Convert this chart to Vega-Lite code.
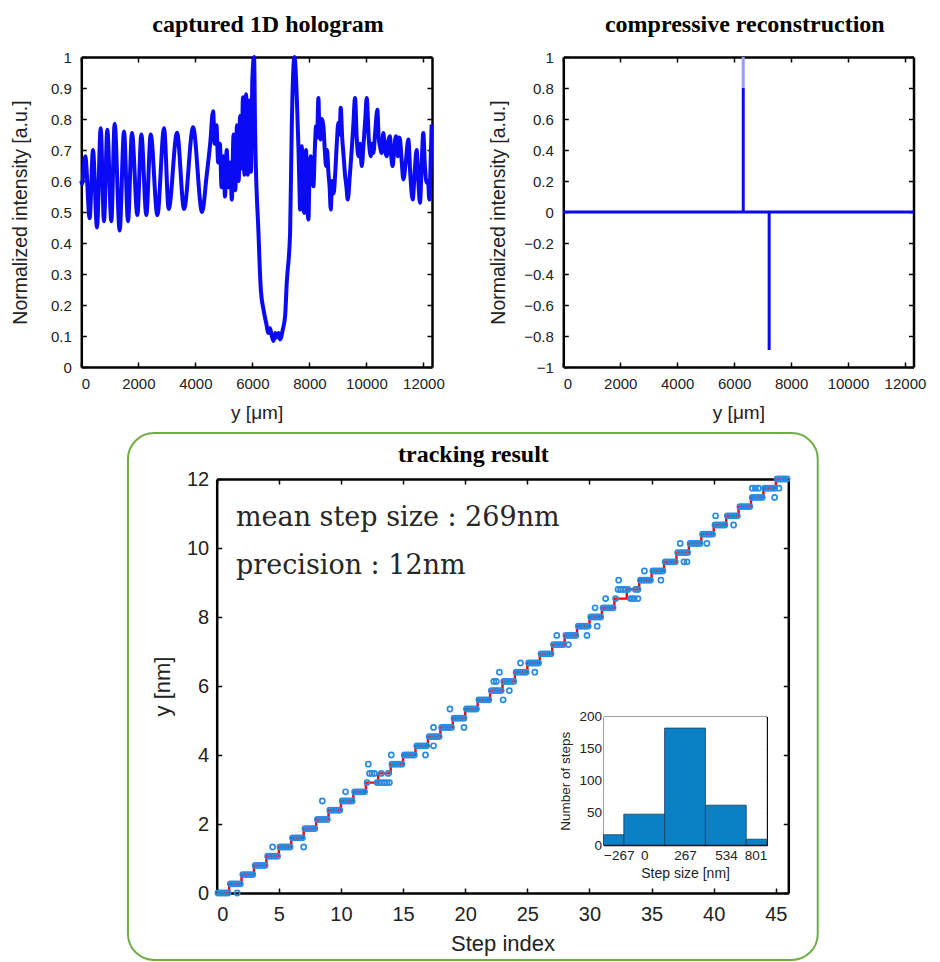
{
"$schema":"https://vega.github.io/schema/vega-lite/v6.json",
"width":940,"height":962,"autosize":"none","padding":0,"background":"white",
"config":{"view":{"stroke":null},
 "axis":{"grid":false,"domainColor":"#000","domainWidth":2.5,"tickColor":"#000","tickWidth":1.5,"tickSize":-5,"labelFont":"Liberation Sans","labelColor":"#222","titleFont":"Liberation Sans","titleFontWeight":"normal","titleColor":"#222","labelOverlap":false,"zindex":1}},
"datasets":{
"holo":[{"um":0,"v":0.6},{"um":23,"v":0.59},{"um":140,"v":0.68},{"um":293,"v":0.48},{"um":410,"v":0.7},{"um":550,"v":0.45},{"um":680,"v":0.77},{"um":796,"v":0.47},{"um":913,"v":0.765},{"um":1053,"v":0.47},{"um":1170,"v":0.785},{"um":1345,"v":0.44},{"um":1498,"v":0.76},{"um":1638,"v":0.47},{"um":1778,"v":0.755},{"um":1966,"v":0.49},{"um":2106,"v":0.75},{"um":2281,"v":0.49},{"um":2434,"v":0.75},{"um":2668,"v":0.49},{"um":2902,"v":0.77},{"um":3065,"v":0.51},{"um":3358,"v":0.756},{"um":3604,"v":0.51},{"um":3920,"v":0.773},{"um":4235,"v":0.5},{"um":4400,"v":0.62},{"um":4520,"v":0.72},{"um":4622,"v":0.825},{"um":4680,"v":0.72},{"um":4740,"v":0.78},{"um":4800,"v":0.66},{"um":4860,"v":0.72},{"um":4920,"v":0.58},{"um":4980,"v":0.68},{"um":5040,"v":0.55},{"um":5100,"v":0.7},{"um":5160,"v":0.58},{"um":5220,"v":0.66},{"um":5280,"v":0.54},{"um":5340,"v":0.75},{"um":5400,"v":0.57},{"um":5460,"v":0.78},{"um":5520,"v":0.6},{"um":5570,"v":0.81},{"um":5620,"v":0.64},{"um":5670,"v":0.87},{"um":5720,"v":0.62},{"um":5780,"v":0.88},{"um":5840,"v":0.62},{"um":5900,"v":0.86},{"um":5950,"v":0.63},{"um":6000,"v":0.93},{"um":6060,"v":1.0},{"um":6097,"v":0.755},{"um":6214,"v":0.433},{"um":6296,"v":0.25},{"um":6389,"v":0.186},{"um":6482,"v":0.143},{"um":6564,"v":0.11},{"um":6620,"v":0.125},{"um":6681,"v":0.1},{"um":6740,"v":0.084},{"um":6800,"v":0.11},{"um":6856,"v":0.095},{"um":6920,"v":0.11},{"um":6973,"v":0.089},{"um":7067,"v":0.121},{"um":7148,"v":0.164},{"um":7206,"v":0.272},{"um":7323,"v":0.433},{"um":7382,"v":0.777},{"um":7475,"v":1.0},{"um":7557,"v":0.873},{"um":7615,"v":0.712},{"um":7650,"v":0.583},{"um":7674,"v":0.508},{"um":7700,"v":0.64},{"um":7732,"v":0.712},{"um":7770,"v":0.56},{"um":7814,"v":0.497},{"um":7850,"v":0.62},{"um":7884,"v":0.7},{"um":7920,"v":0.55},{"um":7966,"v":0.476},{"um":8000,"v":0.6},{"um":8048,"v":0.68},{"um":8090,"v":0.62},{"um":8141,"v":0.583},{"um":8190,"v":0.7},{"um":8234,"v":0.777},{"um":8270,"v":0.74},{"um":8316,"v":0.868},{"um":8350,"v":0.76},{"um":8398,"v":0.734},{"um":8440,"v":0.8},{"um":8491,"v":0.777},{"um":8540,"v":0.7},{"um":8585,"v":0.648},{"um":8620,"v":0.7},{"um":8667,"v":0.626},{"um":8710,"v":0.58},{"um":8748,"v":0.508},{"um":8800,"v":0.6},{"um":8850,"v":0.56},{"um":8900,"v":0.616},{"um":8960,"v":0.72},{"um":9017,"v":0.788},{"um":9060,"v":0.75},{"um":9099,"v":0.836},{"um":9150,"v":0.74},{"um":9192,"v":0.69},{"um":9250,"v":0.62},{"um":9300,"v":0.58},{"um":9344,"v":0.54},{"um":9420,"v":0.62},{"um":9484,"v":0.7},{"um":9540,"v":0.78},{"um":9601,"v":0.868},{"um":9660,"v":0.74},{"um":9718,"v":0.68},{"um":9780,"v":0.72},{"um":9835,"v":0.648},{"um":9900,"v":0.72},{"um":9960,"v":0.8},{"um":10010,"v":0.868},{"um":10080,"v":0.74},{"um":10150,"v":0.68},{"um":10200,"v":0.72},{"um":10243,"v":0.69},{"um":10310,"v":0.76},{"um":10383,"v":0.83},{"um":10430,"v":0.74},{"um":10477,"v":0.712},{"um":10530,"v":0.69},{"um":10594,"v":0.755},{"um":10650,"v":0.7},{"um":10711,"v":0.68},{"um":10770,"v":0.73},{"um":10828,"v":0.744},{"um":10870,"v":0.68},{"um":10921,"v":0.648},{"um":10980,"v":0.71},{"um":11038,"v":0.744},{"um":11100,"v":0.68},{"um":11140,"v":0.74},{"um":11178,"v":0.734},{"um":11240,"v":0.66},{"um":11295,"v":0.605},{"um":11380,"v":0.66},{"um":11470,"v":0.734},{"um":11540,"v":0.62},{"um":11622,"v":0.54},{"um":11700,"v":0.64},{"um":11762,"v":0.7},{"um":11820,"v":0.6},{"um":11879,"v":0.53},{"um":11940,"v":0.66},{"um":11995,"v":0.755},{"um":12050,"v":0.65},{"um":12112,"v":0.594},{"um":12160,"v":0.6},{"um":12205,"v":0.54},{"um":12250,"v":0.65},{"um":12287,"v":0.782}],
"recon":[{"i":0,"um":0,"v":0},{"i":1,"um":6320,"v":0},{"i":2,"um":6320,"v":0.8},{"i":3,"um":6320,"v":0},{"i":4,"um":7230,"v":0},{"i":5,"um":7230,"v":-0.89},{"i":6,"um":7230,"v":0},{"i":7,"um":12300,"v":0}],
"recontop":[{"i":0,"um":6320,"v":0.8},{"i":1,"um":6320,"v":1.0}],
"titleA":[{"um":6551,"v":1.081,"t":"captured 1D hologram"}],
"titleB":[{"um":6375,"v":1.161,"t":"compressive reconstruction"}],
"titleC":[{"s":20.66,"y":12.49,"t":"tracking result"}],
"box":[{"s":-7.14,"s2":48.37,"y":13.33,"y2":-1.94}],
"notes":[{"s":1.55,"y":10.64,"t":"mean step size : 269nm"},{"s":1.55,"y":9.25,"t":"precision : 12nm"}],
"steps":[{"s":0,"y":0},{"s":1,"y":0.267},{"s":2,"y":0.533},{"s":3,"y":0.8},{"s":4,"y":1.067},{"s":5,"y":1.333},{"s":6,"y":1.6},{"s":7,"y":1.867},{"s":8,"y":2.133},{"s":9,"y":2.4},{"s":10,"y":2.667},{"s":11,"y":2.933},{"s":12,"y":3.2},{"s":13,"y":3.467},{"s":14,"y":3.733},{"s":15,"y":4.0},{"s":16,"y":4.267},{"s":17,"y":4.533},{"s":18,"y":4.8},{"s":19,"y":5.067},{"s":20,"y":5.333},{"s":21,"y":5.6},{"s":22,"y":5.867},{"s":23,"y":6.133},{"s":24,"y":6.4},{"s":25,"y":6.667},{"s":26,"y":6.933},{"s":27,"y":7.2},{"s":28,"y":7.467},{"s":29,"y":7.733},{"s":30,"y":8.0},{"s":31,"y":8.267},{"s":32,"y":8.533},{"s":33,"y":8.8},{"s":34,"y":9.067},{"s":35,"y":9.333},{"s":36,"y":9.6},{"s":37,"y":9.867},{"s":38,"y":10.133},{"s":39,"y":10.4},{"s":40,"y":10.667},{"s":41,"y":10.933},{"s":42,"y":11.2},{"s":43,"y":11.467},{"s":44,"y":11.733},{"s":45,"y":12.0},{"s":46,"y":12.0}],
"pts":[
{"s":0.1,"y":0},{"s":0.3,"y":0},{"s":0.5,"y":0},{"s":0.7,"y":0},{"s":0.9,"y":0},
{"s":1.1,"y":0.267},{"s":1.3,"y":0.267},{"s":1.5,"y":0.267},{"s":1.7,"y":0.267},{"s":1.9,"y":0.267},
{"s":2.1,"y":0.533},{"s":2.3,"y":0.533},{"s":2.5,"y":0.533},{"s":2.7,"y":0.533},{"s":2.9,"y":0.533},
{"s":3.1,"y":0.8},{"s":3.3,"y":0.8},{"s":3.5,"y":0.8},{"s":3.7,"y":0.8},{"s":3.9,"y":0.8},
{"s":4.1,"y":1.067},{"s":4.3,"y":1.067},{"s":4.5,"y":1.067},{"s":4.7,"y":1.067},{"s":4.9,"y":1.067},
{"s":5.1,"y":1.333},{"s":5.3,"y":1.333},{"s":5.5,"y":1.333},{"s":5.7,"y":1.333},{"s":5.9,"y":1.333},
{"s":6.1,"y":1.6},{"s":6.3,"y":1.6},{"s":6.5,"y":1.6},{"s":6.7,"y":1.6},{"s":6.9,"y":1.6},
{"s":7.1,"y":1.867},{"s":7.3,"y":1.867},{"s":7.5,"y":1.867},{"s":7.7,"y":1.867},{"s":7.9,"y":1.867},
{"s":8.1,"y":2.133},{"s":8.3,"y":2.133},{"s":8.5,"y":2.133},{"s":8.7,"y":2.133},{"s":8.9,"y":2.133},
{"s":9.1,"y":2.4},{"s":9.3,"y":2.4},{"s":9.5,"y":2.4},{"s":9.7,"y":2.4},{"s":9.9,"y":2.4},
{"s":10.1,"y":2.667},{"s":10.3,"y":2.667},{"s":10.5,"y":2.667},{"s":10.7,"y":2.667},{"s":10.9,"y":2.667},
{"s":11.1,"y":2.933},{"s":11.3,"y":2.933},{"s":11.5,"y":2.933},{"s":11.7,"y":2.933},{"s":11.9,"y":2.933},
{"s":12.1,"y":3.2},{"s":12.3,"y":3.467},{"s":12.5,"y":3.467},{"s":12.7,"y":3.467},{"s":12.9,"y":3.2},
{"s":13.1,"y":3.2},{"s":13.3,"y":3.2},{"s":13.5,"y":3.2},{"s":13.7,"y":3.2},{"s":13.9,"y":3.2},{"s":13.25,"y":3.467},{"s":13.8,"y":3.467},
{"s":14.1,"y":3.733},{"s":14.3,"y":3.733},{"s":14.5,"y":3.733},{"s":14.7,"y":3.733},{"s":14.9,"y":3.733},
{"s":15.1,"y":4.0},{"s":15.3,"y":4.0},{"s":15.5,"y":4.0},{"s":15.7,"y":4.0},{"s":15.9,"y":4.0},
{"s":16.1,"y":4.267},{"s":16.3,"y":4.267},{"s":16.5,"y":4.267},{"s":16.7,"y":4.267},{"s":16.9,"y":4.267},
{"s":17.1,"y":4.533},{"s":17.3,"y":4.533},{"s":17.5,"y":4.533},{"s":17.7,"y":4.533},{"s":17.9,"y":4.533},
{"s":18.1,"y":4.8},{"s":18.3,"y":4.8},{"s":18.5,"y":4.8},{"s":18.7,"y":4.8},{"s":18.9,"y":4.8},
{"s":19.1,"y":5.067},{"s":19.3,"y":5.067},{"s":19.5,"y":5.067},{"s":19.7,"y":5.067},{"s":19.9,"y":5.067},
{"s":20.1,"y":5.333},{"s":20.3,"y":5.333},{"s":20.5,"y":5.333},{"s":20.7,"y":5.333},{"s":20.9,"y":5.333},
{"s":21.1,"y":5.6},{"s":21.3,"y":5.6},{"s":21.5,"y":5.6},{"s":21.7,"y":5.6},{"s":21.9,"y":5.6},
{"s":22.1,"y":5.867},{"s":22.3,"y":5.867},{"s":22.5,"y":5.867},{"s":22.7,"y":5.867},{"s":22.9,"y":5.867},
{"s":23.1,"y":6.133},{"s":23.3,"y":6.133},{"s":23.5,"y":6.133},{"s":23.7,"y":6.133},{"s":23.9,"y":6.133},
{"s":24.1,"y":6.4},{"s":24.3,"y":6.4},{"s":24.5,"y":6.4},{"s":24.7,"y":6.4},{"s":24.9,"y":6.4},
{"s":25.1,"y":6.667},{"s":25.3,"y":6.667},{"s":25.5,"y":6.667},{"s":25.7,"y":6.667},{"s":25.9,"y":6.667},
{"s":26.1,"y":6.933},{"s":26.3,"y":6.933},{"s":26.5,"y":6.933},{"s":26.7,"y":6.933},{"s":26.9,"y":6.933},
{"s":27.1,"y":7.2},{"s":27.3,"y":7.2},{"s":27.5,"y":7.2},{"s":27.7,"y":7.2},{"s":27.9,"y":7.2},
{"s":28.1,"y":7.467},{"s":28.3,"y":7.467},{"s":28.5,"y":7.467},{"s":28.7,"y":7.467},{"s":28.9,"y":7.467},
{"s":29.1,"y":7.733},{"s":29.3,"y":7.733},{"s":29.5,"y":7.733},{"s":29.7,"y":7.733},{"s":29.9,"y":7.733},
{"s":30.1,"y":8.0},{"s":30.3,"y":8.0},{"s":30.5,"y":8.0},{"s":30.7,"y":8.0},{"s":30.9,"y":8.0},
{"s":31.1,"y":8.267},{"s":31.3,"y":8.267},{"s":31.5,"y":8.267},{"s":31.7,"y":8.267},{"s":31.9,"y":8.267},
{"s":32.1,"y":8.533},{"s":32.3,"y":8.8},{"s":32.5,"y":8.8},{"s":32.7,"y":8.8},{"s":32.9,"y":8.8},
{"s":33.1,"y":8.8},{"s":33.3,"y":8.533},{"s":33.45,"y":8.533},{"s":33.6,"y":8.533},{"s":33.7,"y":8.8},{"s":33.9,"y":8.8},
{"s":34.1,"y":9.067},{"s":34.3,"y":9.067},{"s":34.5,"y":9.067},{"s":34.7,"y":9.067},{"s":34.9,"y":9.067},
{"s":35.1,"y":9.333},{"s":35.3,"y":9.333},{"s":35.5,"y":9.333},{"s":35.7,"y":9.333},{"s":35.9,"y":9.333},
{"s":36.1,"y":9.6},{"s":36.3,"y":9.6},{"s":36.5,"y":9.6},{"s":36.7,"y":9.6},{"s":36.9,"y":9.6},
{"s":37.1,"y":9.867},{"s":37.3,"y":9.867},{"s":37.5,"y":9.867},{"s":37.7,"y":9.867},{"s":37.9,"y":9.867},
{"s":38.1,"y":10.133},{"s":38.3,"y":10.133},{"s":38.5,"y":10.133},{"s":38.7,"y":10.133},{"s":38.9,"y":10.133},
{"s":39.1,"y":10.4},{"s":39.3,"y":10.4},{"s":39.5,"y":10.4},{"s":39.7,"y":10.4},{"s":39.9,"y":10.4},
{"s":40.1,"y":10.667},{"s":40.3,"y":10.667},{"s":40.5,"y":10.667},{"s":40.7,"y":10.667},{"s":40.9,"y":10.667},
{"s":41.1,"y":10.933},{"s":41.3,"y":10.933},{"s":41.5,"y":10.933},{"s":41.7,"y":10.933},{"s":41.9,"y":10.933},
{"s":42.1,"y":11.2},{"s":42.3,"y":11.2},{"s":42.5,"y":11.2},{"s":42.7,"y":11.2},{"s":42.9,"y":11.2},
{"s":43.1,"y":11.467},{"s":43.3,"y":11.467},{"s":43.5,"y":11.467},{"s":43.7,"y":11.467},{"s":43.9,"y":11.467},{"s":43.1,"y":11.733},{"s":43.35,"y":11.733},{"s":43.6,"y":11.733},
{"s":44.1,"y":11.733},{"s":44.3,"y":11.733},{"s":44.5,"y":11.733},{"s":44.7,"y":11.733},{"s":44.9,"y":11.733},
{"s":45.1,"y":12.0},{"s":45.3,"y":12.0},{"s":45.5,"y":12.0},{"s":45.7,"y":12.0},{"s":45.9,"y":12.0},
{"s":1.65,"y":0},{"s":4.5,"y":1.333},{"s":7.0,"y":1.333},{"s":8.5,"y":2.667},{"s":10.37,"y":2.933},{"s":12.2,"y":3.733},{"s":14.05,"y":4.0},{"s":16.8,"y":4.0},{"s":17.45,"y":4.267},{"s":17.45,"y":4.8},{"s":18.77,"y":5.333},{"s":19.9,"y":4.8},{"s":22.3,"y":6.133},{"s":22.5,"y":6.133},{"s":22.75,"y":6.4},{"s":23.05,"y":5.6},{"s":23.55,"y":5.867},{"s":24.45,"y":6.667},{"s":25.6,"y":6.4},{"s":27.37,"y":7.467},{"s":28.3,"y":7.2},{"s":29.8,"y":7.467},{"s":30.45,"y":8.267},{"s":30.62,"y":7.733},{"s":31.3,"y":8.533},{"s":32.35,"y":9.067},{"s":33.9,"y":8.533},{"s":34.42,"y":9.333},{"s":35.75,"y":9.067},{"s":37.3,"y":10.133},{"s":37.6,"y":9.6},{"s":37.85,"y":9.6},{"s":39.45,"y":10.133},{"s":40.15,"y":10.933},{"s":41.6,"y":10.667},{"s":44.9,"y":11.467},{"s":45.25,"y":11.733}
],
"hist":[{"lo":-267,"hi":-134,"n":16},{"lo":-134,"hi":133,"n":48},{"lo":133,"hi":400,"n":182},{"lo":400,"hi":667,"n":62},{"lo":667,"hi":801,"n":9}],
"histbg":[{"lo":-267,"hi":801,"n":200}]
},
"layer":[
{"layer":[
 {"data":{"name":"box"},"mark":{"type":"rect","fill":"white","fillOpacity":0,"stroke":"#70ad47","strokeWidth":2,"cornerRadius":26},
  "encoding":{"x":{"field":"s","type":"quantitative","scale":{"domain":[0,46],"range":[216.7,788.3],"nice":false,"zero":false},
     "axis":{"orient":"bottom","offset":-69,"values":[0,5,10,15,20,25,30,35,40,45],"format":"d","title":"Step index","labelFontSize":20,"labelPadding":16,"titleFontSize":22,"titlePadding":9,"tickSize":-5}},
   "x2":{"field":"s2"},
   "y":{"field":"y","type":"quantitative","scale":{"domain":[0,12],"range":[893,479],"nice":false,"zero":false},
     "axis":{"orient":"left","offset":-216.7,"values":[0,2,4,6,8,10,12],"format":"d","title":"y [nm]","labelFontSize":20,"labelPadding":13,"titleFontSize":22,"titlePadding":12,"tickSize":-5}},
   "y2":{"field":"y2"}}},
 {"data":{"name":"steps"},"mark":{"type":"line","color":"#ff0000","strokeWidth":2.4,"interpolate":"step-after"},
  "encoding":{"x":{"field":"s","type":"quantitative","axis":{"orient":"top","offset":-479,"values":[0,5,10,15,20,25,30,35,40,45],"labels":false,"title":null,"tickSize":-5}},
   "y":{"field":"y","type":"quantitative","axis":{"orient":"right","offset":-151.7,"values":[0,2,4,6,8,10,12],"labels":false,"title":null,"tickSize":-5}}}},
 {"data":{"name":"pts"},"mark":{"type":"point","shape":"circle","filled":false,"size":26,"strokeWidth":1.7,"color":"#2b8be0","opacity":1},
  "encoding":{"x":{"field":"s","type":"quantitative","axis":null},"y":{"field":"y","type":"quantitative","axis":null}}},
 {"data":{"name":"notes"},"mark":{"type":"text","font":"DejaVu Serif","fontSize":27,"align":"left","baseline":"alphabetic","color":"#262626"},
  "encoding":{"x":{"field":"s","type":"quantitative","axis":null},"y":{"field":"y","type":"quantitative","axis":null},"text":{"field":"t"}}},
 {"data":{"name":"titleC"},"mark":{"type":"text","font":"Liberation Serif","fontWeight":"bold","fontSize":24,"align":"center","baseline":"alphabetic","color":"#000"},
  "encoding":{"x":{"field":"s","type":"quantitative","axis":null},"y":{"field":"y","type":"quantitative","axis":null},"text":{"field":"t"}}}
],
"resolve":{"axis":{"x":"independent","y":"independent"}}},
{"layer":[
 {"data":{"name":"histbg"},"mark":{"type":"rect","fill":"white"},
  "encoding":{"x":{"field":"lo","type":"quantitative","scale":{"domain":[-267,801],"range":[603.5,766.7],"nice":false,"zero":false},
     "axis":{"orient":"bottom","offset":-117,"values":[-267,0,267,534,801],"format":"d","labelFlush":true,"title":"Step size [nm]","labelFontSize":13.5,"labelPadding":6,"titleFontSize":14,"titlePadding":5,"tickSize":-3,"domainWidth":1.5,"tickWidth":1}},
   "x2":{"field":"hi"},
   "y":{"field":"n","type":"quantitative","scale":{"domain":[0,200],"range":[845,716.5],"nice":false,"zero":false},
     "axis":{"orient":"left","offset":-603.5,"values":[0,50,100,150,200],"format":"d","title":"Number of steps","labelFontSize":13.5,"labelPadding":5,"titleFontSize":13.5,"titlePadding":6,"tickSize":-3,"domainWidth":1.5,"tickWidth":1}},
   "y2":{"datum":0}}},
 {"data":{"name":"hist"},"mark":{"type":"rect","fill":"#0b80c4","stroke":"#1d3a55","strokeWidth":0.8},
  "encoding":{"x":{"field":"lo","type":"quantitative","axis":{"orient":"top","offset":-716.5,"values":[-267,0,267,534,801],"labels":false,"title":null,"tickSize":-3,"domainWidth":1.5,"tickWidth":1}},
   "x2":{"field":"hi"},
   "y":{"field":"n","type":"quantitative","axis":{"orient":"right","offset":-173.3,"values":[0,50,100,150,200],"labels":false,"title":null,"tickSize":-3,"domainWidth":1.5,"tickWidth":1}},
   "y2":{"datum":0}}}
],
"resolve":{"axis":{"x":"independent","y":"independent"}}},
{"layer":[
 {"data":{"name":"holo"},"mark":{"type":"line","color":"#0a0af5","strokeWidth":4,"interpolate":"monotone"},
  "encoding":{"x":{"field":"um","type":"quantitative","scale":{"domain":[0,12300],"range":[81.3,432],"nice":false,"zero":false},
     "axis":{"orient":"bottom","offset":-595,"values":[0,2000,4000,6000,8000,10000,12000],"format":"d","title":"y [μm]","labelFontSize":15,"labelPadding":14,"titleFontSize":19,"titlePadding":12}},
   "y":{"field":"v","type":"quantitative","scale":{"domain":[0,1],"range":[367,57],"nice":false,"zero":false},
     "axis":{"orient":"left","offset":-81.3,"values":[0,0.1,0.2,0.3,0.4,0.5,0.6,0.7,0.8,0.9,1],"format":"~g","title":"Normalized intensity [a.u.]","labelFontSize":15,"labelPadding":15,"titleFontSize":19.5,"titlePadding":20}}}},
 {"data":{"name":"titleA"},"mark":{"type":"text","font":"Liberation Serif","fontWeight":"bold","fontSize":24,"align":"center","baseline":"alphabetic","color":"#000"},
  "encoding":{"x":{"field":"um","type":"quantitative","axis":{"orient":"top","offset":-57,"values":[0,2000,4000,6000,8000,10000,12000],"labels":false,"title":null}},
   "y":{"field":"v","type":"quantitative","axis":{"orient":"right","offset":-508,"values":[0,0.1,0.2,0.3,0.4,0.5,0.6,0.7,0.8,0.9,1],"labels":false,"title":null}},
   "text":{"field":"t"}}}
],
"resolve":{"axis":{"x":"independent","y":"independent"}}},
{"layer":[
 {"data":{"name":"recon"},"mark":{"type":"line","color":"#0a0af5","strokeWidth":3},
  "encoding":{"x":{"field":"um","type":"quantitative","scale":{"domain":[0,12300],"range":[563.3,913.5],"nice":false,"zero":false},
     "axis":{"orient":"bottom","offset":-595,"values":[0,2000,4000,6000,8000,10000,12000],"format":"d","title":"y [μm]","labelFontSize":15,"labelPadding":14,"titleFontSize":19,"titlePadding":12}},
   "y":{"field":"v","type":"quantitative","scale":{"domain":[-1,1],"range":[367,57],"nice":false,"zero":false},
     "axis":{"orient":"left","offset":-563.3,"values":[-1,-0.8,-0.6,-0.4,-0.2,0,0.2,0.4,0.6,0.8,1],"format":"~g","title":"Normalized intensity [a.u.]","labelFontSize":15,"labelPadding":15,"titleFontSize":19.5,"titlePadding":15}},
   "order":{"field":"i","type":"quantitative"}}},
 {"data":{"name":"recontop"},"mark":{"type":"line","color":"#9a9aff","strokeWidth":3},
  "encoding":{"x":{"field":"um","type":"quantitative","axis":null},"y":{"field":"v","type":"quantitative","axis":null},"order":{"field":"i","type":"quantitative"}}},
 {"data":{"name":"titleB"},"mark":{"type":"text","font":"Liberation Serif","fontWeight":"bold","fontSize":24,"align":"center","baseline":"alphabetic","color":"#000"},
  "encoding":{"x":{"field":"um","type":"quantitative","axis":{"orient":"top","offset":-57,"values":[0,2000,4000,6000,8000,10000,12000],"labels":false,"title":null}},
   "y":{"field":"v","type":"quantitative","axis":{"orient":"right","offset":-26.5,"values":[-1,-0.8,-0.6,-0.4,-0.2,0,0.2,0.4,0.6,0.8,1],"labels":false,"title":null}},
   "text":{"field":"t"}}}
],
"resolve":{"axis":{"x":"independent","y":"independent"}}}
],
"resolve":{"scale":{"x":"independent","y":"independent"},"axis":{"x":"independent","y":"independent"}}
}
